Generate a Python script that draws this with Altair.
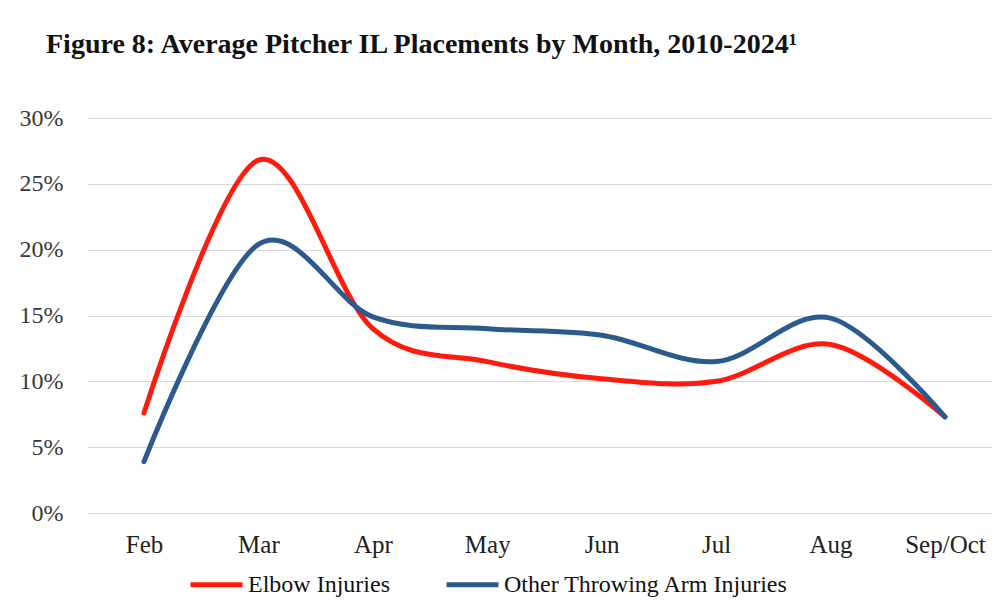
import altair as alt
import pandas as pd

months = ["Feb", "Mar", "Apr", "May", "Jun", "Jul", "Aug", "Sep/Oct"]
elbow = [0.076, 0.268, 0.140, 0.115, 0.102, 0.100, 0.128, 0.073]
other = [0.039, 0.204, 0.149, 0.140, 0.135, 0.115, 0.148, 0.073]
series_names = ["Elbow Injuries", "Other Throwing Arm Injuries"]
colors = ["#FF1A0E", "#2C5A8C"]

rows = []
for i, m in enumerate(months):
    rows.append({"idx": i, "month": m, "series": series_names[0], "value": elbow[i]})
    rows.append({"idx": i, "month": m, "series": series_names[1], "value": other[i]})
df = pd.DataFrame(rows)

FONT = "Liberation Serif"
month_array = "[" + ",".join("'" + m + "'" for m in months) + "]"

chart = alt.Chart(df).mark_line(
    interpolate="cardinal", strokeWidth=5, strokeCap="round"
).encode(
    x=alt.X("idx:Q",
            scale=alt.Scale(domain=[-0.498, 7.411], nice=False, zero=False),
            axis=alt.Axis(title=None, labelAngle=0, ticks=False, domain=False,
                          grid=False, values=list(range(len(months))),
                          labelExpr=month_array + "[datum.value]",
                          labelFont=FONT, labelFontSize=25,
                          labelColor="#222222", labelPadding=19)),
    y=alt.Y("value:Q", scale=alt.Scale(domain=[0, 0.30]),
            axis=alt.Axis(title=None, format=".0%", values=[0, 0.05, 0.10, 0.15, 0.20, 0.25, 0.30],
                          ticks=False, domain=False, grid=True, gridColor="#d9d9d9",
                          gridWidth=1.2, labelFont=FONT, labelFontSize=24,
                          labelColor="#3a3a3a", labelPadding=24)),
    color=alt.Color("series:N",
                    scale=alt.Scale(domain=series_names, range=colors),
                    legend=alt.Legend(title=None, orient="none", direction="horizontal",
                                      legendX=101, legendY=438,
                                      symbolType="stroke", symbolStrokeWidth=5,
                                      symbolSize=2704, labelFont=FONT, labelFontSize=24,
                                      labelColor="#111111", labelOffset=3, labelLimit=0,
                                      columnPadding=46)),
).properties(
    width=905,
    height=395,
    padding={"left": 79, "top": 110, "right": 0, "bottom": 87},
    autosize=alt.AutoSizeParams(type="none"),
    title=alt.TitleParams(
        "Figure 8: Average Pitcher IL Placements by Month, 2010-2024\u00b9",
        anchor="start", frame="group", dx=-41, offset=47,
        font=FONT, fontSize=28, fontWeight="bold", color="#111111"),
).configure(background="white").configure_view(stroke=None)

chart.save("out.html", embed_options={"renderer": "svg", "actions": False})
